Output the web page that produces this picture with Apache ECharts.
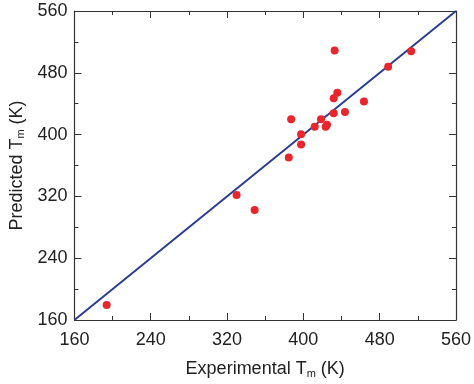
<!DOCTYPE html>
<html><head><meta charset="utf-8">
<script src="https://cdn.jsdelivr.net/npm/echarts@6/dist/echarts.min.js"></script>
<style>html,body{margin:0;padding:0;background:#fff}#c{width:474px;height:384px}</style>
</head><body><div id="c"></div>
<script>
var experimental = [193.8, 330, 348.9, 384.7, 387.2, 397.6, 397.6, 411.9, 418.5, 423.4, 424.8, 431.8, 431.8, 435.6, 432.8, 443.6, 463.5, 488.9, 513];
var predicted    = [179.4, 321.7, 302.4, 370.3, 419.8, 400.4, 387.1, 410.3, 419.8, 410.3, 412.9, 427.5, 446.9, 454.2, 508.8, 429.2, 443, 487.7, 508];
var idealLine = [[160, 160], [560, 560]];
var tickLabels = [160, 240, 320, 400, 480, 560];

var pts = experimental.map(function (x, i) { return [x, predicted[i]]; });
var font = 'Liberation Sans, Arial, sans-serif';
var axisCol = '#333';
function baseAxis(show) {
  return {
    type: 'value', min: 160, max: 560, interval: 80,
    axisLine: { show: true, onZero: false, lineStyle: { color: axisCol, width: 1.2 } },
    axisTick: { show: true, inside: true, length: 7, lineStyle: { color: axisCol } },
    minorTick: { show: true, splitNumber: 2, length: 4, lineStyle: { color: axisCol } },
    splitLine: { show: false },
    axisLabel: { show: show, color: '#222', fontSize: 18, fontFamily: font }
  };
}
var subStyle = { fontSize: 11, verticalAlign: 'bottom', padding: [8, 0, 0, 0], fontFamily: font, color: '#222' };
var xb = baseAxis(true);
xb.position = 'bottom';
xb.axisLabel.margin = 11;
xb.name = 'Experimental T{sub|m} (K)';
xb.nameLocation = 'middle';
xb.nameGap = 40;
xb.nameTextStyle = { color: '#222', fontSize: 18, fontFamily: font, rich: { sub: subStyle } };
var xt = baseAxis(false); xt.position = 'top';
var yl = baseAxis(true);
yl.position = 'left';
yl.axisLabel.margin = 7;
yl.name = 'Predicted T{sub|m} (K)';
yl.nameLocation = 'middle';
yl.nameGap = 44;
yl.nameTextStyle = { color: '#222', fontSize: 18, fontFamily: font, rich: { sub: subStyle } };
var yr = baseAxis(false); yr.position = 'right';

var chart = echarts.init(document.getElementById('c'), null, { renderer: 'canvas' });
chart.setOption({
  animation: false,
  grid: { left: 73, right: 18, top: 11, bottom: 63 },
  xAxis: [xb, xt],
  yAxis: [yl, yr],
  series: [
    { type: 'line', data: idealLine, showSymbol: false, symbol: 'none',
      lineStyle: { color: '#2a3c96', width: 2 }, z: 2 },
    { type: 'scatter', data: pts, symbolSize: 8,
      itemStyle: { color: '#e8262b', opacity: 1 }, z: 3 }
  ]
});
</script></body></html>
